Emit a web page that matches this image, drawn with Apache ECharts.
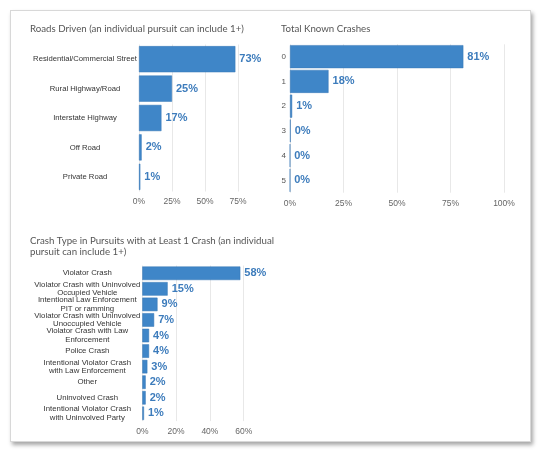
<!DOCTYPE html>
<html>
<head>
<meta charset="utf-8">
<script src="https://cdn.jsdelivr.net/npm/echarts@6/dist/echarts.min.js"></script>
<style>
html,body{margin:0;padding:0;background:#fff;}
#card{position:absolute;left:10px;top:10px;width:519px;height:430px;background:#fff;border:1px solid #d8d8d8;box-shadow:2px 3px 4px rgba(0,0,0,0.35);}
#chart{position:absolute;left:0;top:0;width:540px;height:451px;}
</style>
</head>
<body>
<div id="card"></div>
<div id="chart"></div>
<script>
const roadCategories = ['Residential/Commercial Street','Rural Highway/Road','Interstate Highway','Off Road','Private Road'];
const roadValues = [73, 25, 17, 2, 1];
const roadTicks = [0, 25, 50, 75];

const crashCountCategories = ['0','1','2','3','4','5'];
const crashCountValues = [81, 18, 1, 0.3, 0, 0];
const crashCountTicks = [0, 25, 50, 75, 100];

const crashTypeCategories = [
  'Violator Crash',
  'Violator Crash with Uninvolved\nOccupied Vehicle',
  'Intentional Law Enforcement\nPIT or ramming',
  'Violator Crash with Uninvolved\nUnoccupied Vehicle',
  'Violator Crash with Law\nEnforcement',
  'Police Crash',
  'Intentional Violator Crash\nwith Law Enforcement',
  'Other',
  'Uninvolved Crash',
  'Intentional Violator Crash\nwith Uninvolved Party'
];
const crashTypeValues = [58, 15, 9, 7, 4, 4, 3, 2, 2, 1];
const crashTypeTicks = [0, 20, 40, 60];

const FONT = '"Liberation Sans", Arial, sans-serif';
const TITLE_FONT = 'Lato, "Liberation Sans", sans-serif';
const BAR = '#3f86c8';
const LABEL = '#3d7cbc';

function xAxis(gridIndex, ticks){
  const interval = ticks[1] - ticks[0];
  return {
    type: 'value', gridIndex, min: 0, max: ticks[ticks.length-1], interval,
    axisLine: {show:false}, axisTick: {show:false},
    splitLine: {show:true, lineStyle:{color:'#e8e8e8', width:1}},
    axisLabel: {formatter: v => v + '%', fontSize: 8.5, color: '#666', fontFamily: FONT, margin: 6}
  };
}
function yAxis(gridIndex, cats, opts){
  return Object.assign({
    type: 'category', gridIndex, data: cats, inverse: true,
    axisLine: {show:false}, axisTick: {show:false},
  }, opts);
}
function bars(xi, data, gap){
  return {
    type: 'bar', xAxisIndex: xi, yAxisIndex: xi, data,
    barCategoryGap: gap,
    itemStyle: {color: BAR, borderColor: '#3676b4', borderWidth: 0.5},
    label: {show: true, position: 'right', distance: 4, formatter: p => Math.round(p.value) + '%',
      fontSize: 11, fontWeight: 'bold', color: LABEL, fontFamily: FONT}
  };
}

const titleStyle = {fontSize: 9.7, fontWeight:'normal', color:'#555', fontFamily: TITLE_FONT, lineHeight: 11};

const chart = echarts.init(document.getElementById('chart'), null, {renderer:'canvas'});
chart.setOption({
  animation: false,
  title: [
    {text: 'Roads Driven (an individual pursuit can include 1+)', left: 30, top: 23, padding: 0, textStyle: titleStyle},
    {text: 'Total Known Crashes', left: 281, top: 23, padding: 0, textStyle: titleStyle},
    {text: 'Crash Type in Pursuits with at Least 1 Crash (an individual\npursuit can include 1+)', left: 30, top: 235, padding: 0, textStyle: titleStyle}
  ],
  grid: [
    {left: 139, width: 99, top: 44.5, height: 147},
    {left: 290, width: 214, top: 44.3, height: 148.4},
    {left: 142.3, width: 101.4, top: 265.5, height: 155.6}
  ],
  xAxis: [xAxis(0, roadTicks), xAxis(1, crashCountTicks), xAxis(2, crashTypeTicks)],
  yAxis: [
    yAxis(0, roadCategories, {axisLabel:{fontSize: 7.7, color:'#333', fontFamily: FONT, align:'center', margin: 54}}),
    yAxis(1, crashCountCategories, {axisLabel:{fontSize: 8, color:'#555', fontFamily: FONT, margin: 4}}),
    yAxis(2, crashTypeCategories, {axisLabel:{fontSize: 7.8, color:'#333', fontFamily: FONT, align:'center', margin: 55, lineHeight: 8.5}})
  ],
  series: [
    bars(0, roadValues, '11%'),
    bars(1, crashCountValues, '7%'),
    bars(2, crashTypeValues, '13%')
  ]
});
</script>
</body>
</html>
